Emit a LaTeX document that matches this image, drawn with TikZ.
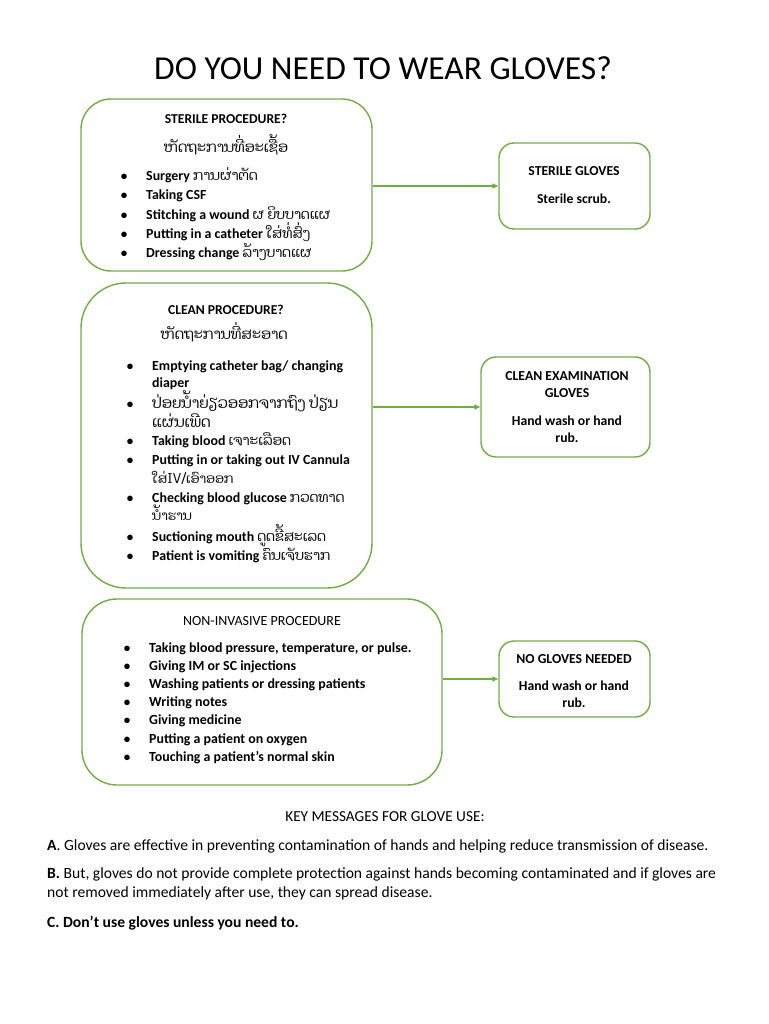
\documentclass[tikz,border=0pt]{standalone}
\usepackage{fontspec}
\setmainfont{Carlito}
\newfontfamily\laofont[Script=Lao]{Dhyana}
\usetikzlibrary{arrows.meta}
\definecolor{gr}{RGB}{112,173,71}
\newcommand\lo[1]{{\laofont\mdseries #1}}
\begin{document}
\begin{tikzpicture}[x=1pt,y=-1pt,
  box/.style={draw=gr, line width=1.4pt, inner sep=0pt},
  ln/.style={anchor=base west, inner sep=0pt, font=\fontsize{13.9}{16}\selectfont\bfseries},
  bul/.style={anchor=base, inner sep=0pt, font=\fontsize{13}{15}\selectfont\bfseries},
  hd/.style={anchor=base, inner sep=0pt, font=\fontsize{14}{16}\selectfont},
  lh/.style={anchor=base, inner sep=0pt, font=\fontsize{14.5}{17}\laofont},
  rt/.style={anchor=base, inner sep=0pt, font=\fontsize{13.7}{16}\selectfont\bfseries},
  km/.style={anchor=base west, inner sep=0pt, font=\fontsize{15.6}{18}\selectfont},
  arr/.style={draw=gr, line width=1.2pt, -{Triangle[length=6pt,width=5pt]}}]
\useasboundingbox (0,0) rectangle (768,1024);
\fill[white] (0,0) rectangle (768,1024);

\node[anchor=base, inner sep=0pt, font=\fontsize{33.5}{38}\selectfont] (title) at (383,80) {DO YOU NEED TO WEAR GLOVES?};

% boxes
\node[box, rounded corners=30pt, minimum width=291pt, minimum height=172pt] (b1) at (226.5,185) {};
\node[box, rounded corners=45pt, minimum width=291pt, minimum height=305pt] (b2) at (226.5,435.5) {};
\node[box, rounded corners=35pt, minimum width=360pt, minimum height=186pt] (b3) at (262,692) {};
\node[box, rounded corners=15pt, minimum width=151pt, minimum height=86pt] (r1) at (574.5,186) {};
\node[box, rounded corners=15pt, minimum width=169pt, minimum height=100pt] (r2) at (565.5,407) {};
\node[box, rounded corners=15pt, minimum width=151pt, minimum height=76pt] (r3) at (574.5,679) {};

\draw[arr] (b1.east |- r1.west) -- (r1.west);
\draw[arr] (b2.east |- r2.west) -- (r2.west);
\draw[arr] (b3.east |- r3.west) -- (r3.west);

% box 1
\node[hd, font=\fontsize{13.6}{16}\selectfont\bfseries] (h1) at (226,124) {STERILE PROCEDURE?};
\node[lh] (l1) at (226,153) {ຫັດຖະການທີ່ອະເຊື້ອ};
\foreach \y [count=\i] in {181,200,219,238,258} \node[bul] (b1d\i) at (124,\y) {•};
\node[ln] (a1) at (146,181) {Surgery \lo{ການຜ່າຕັດ}};
\node[ln] (a2) at (146,200) {Taking CSF};
\node[ln] (a3) at (146,219) {Stitching a wound \lo{ຜ ຍິບບາດແຜ}};
\node[ln] (a4) at (146,238) {Putting in a catheter \lo{ໃສ່ທໍ່ສົ່ງ}};
\node[ln] (a5) at (146,258) {Dressing change \lo{ລ້າງບາດແຜ}};

% box 2
\node[hd, font=\fontsize{13.6}{16}\selectfont\bfseries] (h2) at (226,314) {CLEAN PROCEDURE?};
\node[lh] (l2) at (224,339) {ຫັດຖະການທີ່ສະອາດ};
\foreach \y [count=\i] in {370,408,445,464,502,541,560} \node[bul] (b2d\i) at (130,\y) {•};
\node[ln] (c1) at (152,370) {Emptying catheter bag/ changing};
\node[ln] (c1b) at (152,387) {diaper};
\node[ln, font=\fontsize{14.9}{17}\laofont] (c2) at (152,408) {ປ່ອຍນ້ຳຍ່ຽວອອກຈາກຖົງ ປ່ຽນ};
\node[ln, font=\fontsize{14.9}{17}\laofont] (c2b) at (152,427) {ແຜ່ນເພີດ};
\node[ln] (c3) at (152,445) {Taking blood \lo{ເຈາະເລືອດ}};
\node[ln] (c4) at (152,464) {Putting in or taking out IV Cannula};
\node[ln, font=\fontsize{13}{15}\laofont] (c4b) at (152,483) {ໃສ່IV/ເອົາອອກ};
\node[ln] (c5) at (152,502) {Checking blood glucose \lo{ກວດທາດ}};
\node[ln, font=\fontsize{13}{15}\laofont] (c5b) at (152,520) {ນ້ຳຮານ};
\node[ln] (c6) at (152,541) {Suctioning mouth \lo{ດູດຂີ້ສະເລດ}};
\node[ln] (c7) at (152,560) {Patient is vomiting \lo{ຄົນເຈັບຮາກ}};

% box 3
\node[hd] (h3) at (262,625) {NON-INVASIVE PROCEDURE};
\foreach \y [count=\i] in {652,670,688,706,724,743,761} \node[bul] (b3d\i) at (127,\y) {•};
\node[ln] (n1) at (149,652) {Taking blood pressure, temperature, or pulse.};
\node[ln] (n2) at (149,670) {Giving IM or SC injections};
\node[ln] (n3) at (149,688) {Washing patients or dressing patients};
\node[ln] (n4) at (149,706) {Writing notes};
\node[ln] (n5) at (149,724) {Giving medicine};
\node[ln] (n6) at (149,743) {Putting a patient on oxygen};
\node[ln] (n7) at (149,761) {Touching a patient’s normal skin};

% right boxes
\node[rt] (t1a) at (574,176) {STERILE GLOVES};
\node[rt] (t1b) at (574,204) {Sterile scrub.};
\node[rt] (t2a) at (567,380) {CLEAN EXAMINATION};
\node[rt] (t2b) at (567,397) {GLOVES};
\node[rt] (t2c) at (567,425) {Hand wash or hand};
\node[rt] (t2d) at (567,442) {rub.};
\node[rt] (t3a) at (574,663) {NO GLOVES NEEDED};
\node[rt] (t3b) at (574,690) {Hand wash or hand};
\node[rt] (t3c) at (574,707) {rub.};

% key messages
\node[anchor=base, inner sep=0pt, font=\fontsize{15.3}{18}\selectfont] (kh) at (385,821) {KEY MESSAGES FOR GLOVE USE:};
\node[km] (ka) at (47,850) {\textbf{A}. Gloves are effective in preventing contamination of hands and helping reduce transmission of disease.};
\node[km] (kb) at (47,878) {\textbf{B.} But, gloves do not provide complete protection against hands becoming contaminated and if gloves are};
\node[km] (kb2) at (47,897) {not removed immediately after use, they can spread disease.};
\node[km, font=\fontsize{15.6}{18}\selectfont\bfseries] (kc) at (47,927) {C. Don’t use gloves unless you need to.};
\end{tikzpicture}
\end{document}
